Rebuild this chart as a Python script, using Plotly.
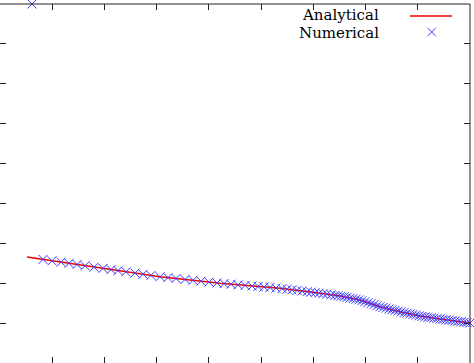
import plotly.graph_objects as go

# Analytical solution
ana_x = [0.517, 1.915, 3.064, 4.213, 5.362, 6.128, 6.511, 6.894, 7.277, 7.660, 8.043, 8.426, 9.0]
ana_y = [2.657, 2.382, 2.163, 1.998, 1.873, 1.747, 1.680, 1.579, 1.411, 1.286, 1.178, 1.103, 1.003]

# Numerical solution
num_x = [0.613, 0.823, 0.996, 1.168, 1.321, 1.475, 1.628, 1.800, 1.972, 2.126, 2.260,
         2.413, 2.585, 2.738, 2.892, 3.064, 3.217, 3.370, 3.543, 3.696, 3.849, 4.002,
         4.156, 4.290, 4.424, 4.558, 4.692, 4.826, 4.941, 5.056, 5.170, 5.285, 5.400,
         5.496, 5.592, 5.688, 5.783, 5.879, 5.956, 6.032, 6.109, 6.185, 6.262, 6.339,
         6.415, 6.473, 6.530, 6.588, 6.645, 6.702, 6.760, 6.817, 6.875, 6.932, 6.990,
         7.047, 7.105, 7.162, 7.220, 7.277, 7.334, 7.392, 7.449, 7.507, 7.564, 7.622,
         7.679, 7.737, 7.794, 7.851, 7.909, 7.966, 8.024, 8.081, 8.139, 8.196, 8.254,
         8.311, 8.368, 8.426, 8.483, 8.541, 8.598, 8.656, 8.713, 8.771, 8.828, 8.886,
         8.943, 9.000]
num_y = [9.000, 2.597, 2.562, 2.529, 2.499, 2.469, 2.439, 2.404, 2.372, 2.341, 2.316,
         2.286, 2.254, 2.226, 2.196, 2.163, 2.141, 2.118, 2.093, 2.073, 2.051, 2.028,
         2.006, 1.990, 1.975, 1.960, 1.945, 1.930, 1.918, 1.905, 1.893, 1.880, 1.865,
         1.850, 1.835, 1.820, 1.802, 1.787, 1.775, 1.762, 1.750, 1.737, 1.725, 1.710,
         1.697, 1.687, 1.675, 1.660, 1.645, 1.629, 1.614, 1.599, 1.584, 1.562, 1.537,
         1.512, 1.487, 1.462, 1.436, 1.411, 1.391, 1.374, 1.354, 1.336, 1.316, 1.299,
         1.281, 1.263, 1.248, 1.231, 1.216, 1.201, 1.183, 1.171, 1.158, 1.148, 1.136,
         1.126, 1.113, 1.103, 1.093, 1.083, 1.073, 1.063, 1.053, 1.043, 1.033, 1.023,
         1.013, 1.003]

legend_labels = ["Analytical", "Numerical"]

RED = "#ee0000"
BLUE = "#3c3cff"
FONT = "DejaVu Serif"

fig = go.Figure()
fig.add_trace(go.Scatter(x=ana_x, y=ana_y, mode="lines",
                         line=dict(color=RED, width=1.6), name=legend_labels[0]))
fig.add_trace(go.Scatter(x=num_x, y=num_y, mode="markers", cliponaxis=False,
                         marker=dict(symbol="x-thin", size=9,
                                     line=dict(width=1, color=BLUE)),
                         name=legend_labels[1]))

axis_common = dict(showgrid=False, zeroline=False, showline=False,
                   ticks="inside", ticklen=6, tickwidth=1, tickcolor="#222",
                   mirror="ticks", showticklabels=False)
fig.update_xaxes(range=[0, 9], dtick=1, tick0=0, **axis_common)
fig.update_yaxes(range=[0, 9], dtick=1, tick0=0, **axis_common)

# frame lines (top and right visible in the cropped view)
fig.add_shape(type="line", xref="paper", yref="paper", x0=0, x1=1, y0=1, y1=1,
              line=dict(color="#222", width=1))
fig.add_shape(type="line", xref="paper", yref="paper", x0=1, x1=1, y0=0, y1=1,
              line=dict(color="#222", width=1))

# gnuplot-style key: text right-justified, sample on the right
fig.add_annotation(xref="paper", yref="paper", x=0.8085, y=0.9694, xanchor="right",
                   yanchor="middle", text=legend_labels[0], showarrow=False,
                   borderpad=0, font=dict(family=FONT, size=15, color="black"))
fig.add_annotation(xref="paper", yref="paper", x=0.8085, y=0.9192, xanchor="right",
                   yanchor="middle", text=legend_labels[1], showarrow=False,
                   borderpad=0, font=dict(family=FONT, size=15, color="black"))
fig.add_shape(type="line", xref="paper", yref="paper", x0=0.8723, x1=0.9617,
              y0=0.9666, y1=0.9666, line=dict(color=RED, width=1.6))
fig.add_shape(type="line", xref="paper", yref="paper", x0=0.910, x1=0.927,
              y0=0.9331, y1=0.9109, line=dict(color=BLUE, width=1))
fig.add_shape(type="line", xref="paper", yref="paper", x0=0.910, x1=0.927,
              y0=0.9109, y1=0.9331, line=dict(color=BLUE, width=1))

fig.update_layout(width=474, height=363, margin=dict(l=0, r=4, t=4, b=0),
                  paper_bgcolor="white", plot_bgcolor="white", showlegend=False,
                  hovermode=False)

fig.write_html("out.html", config={"displayModeBar": False},
               post_script="document.body.style.margin='0';document.body.style.overflow='hidden';")
